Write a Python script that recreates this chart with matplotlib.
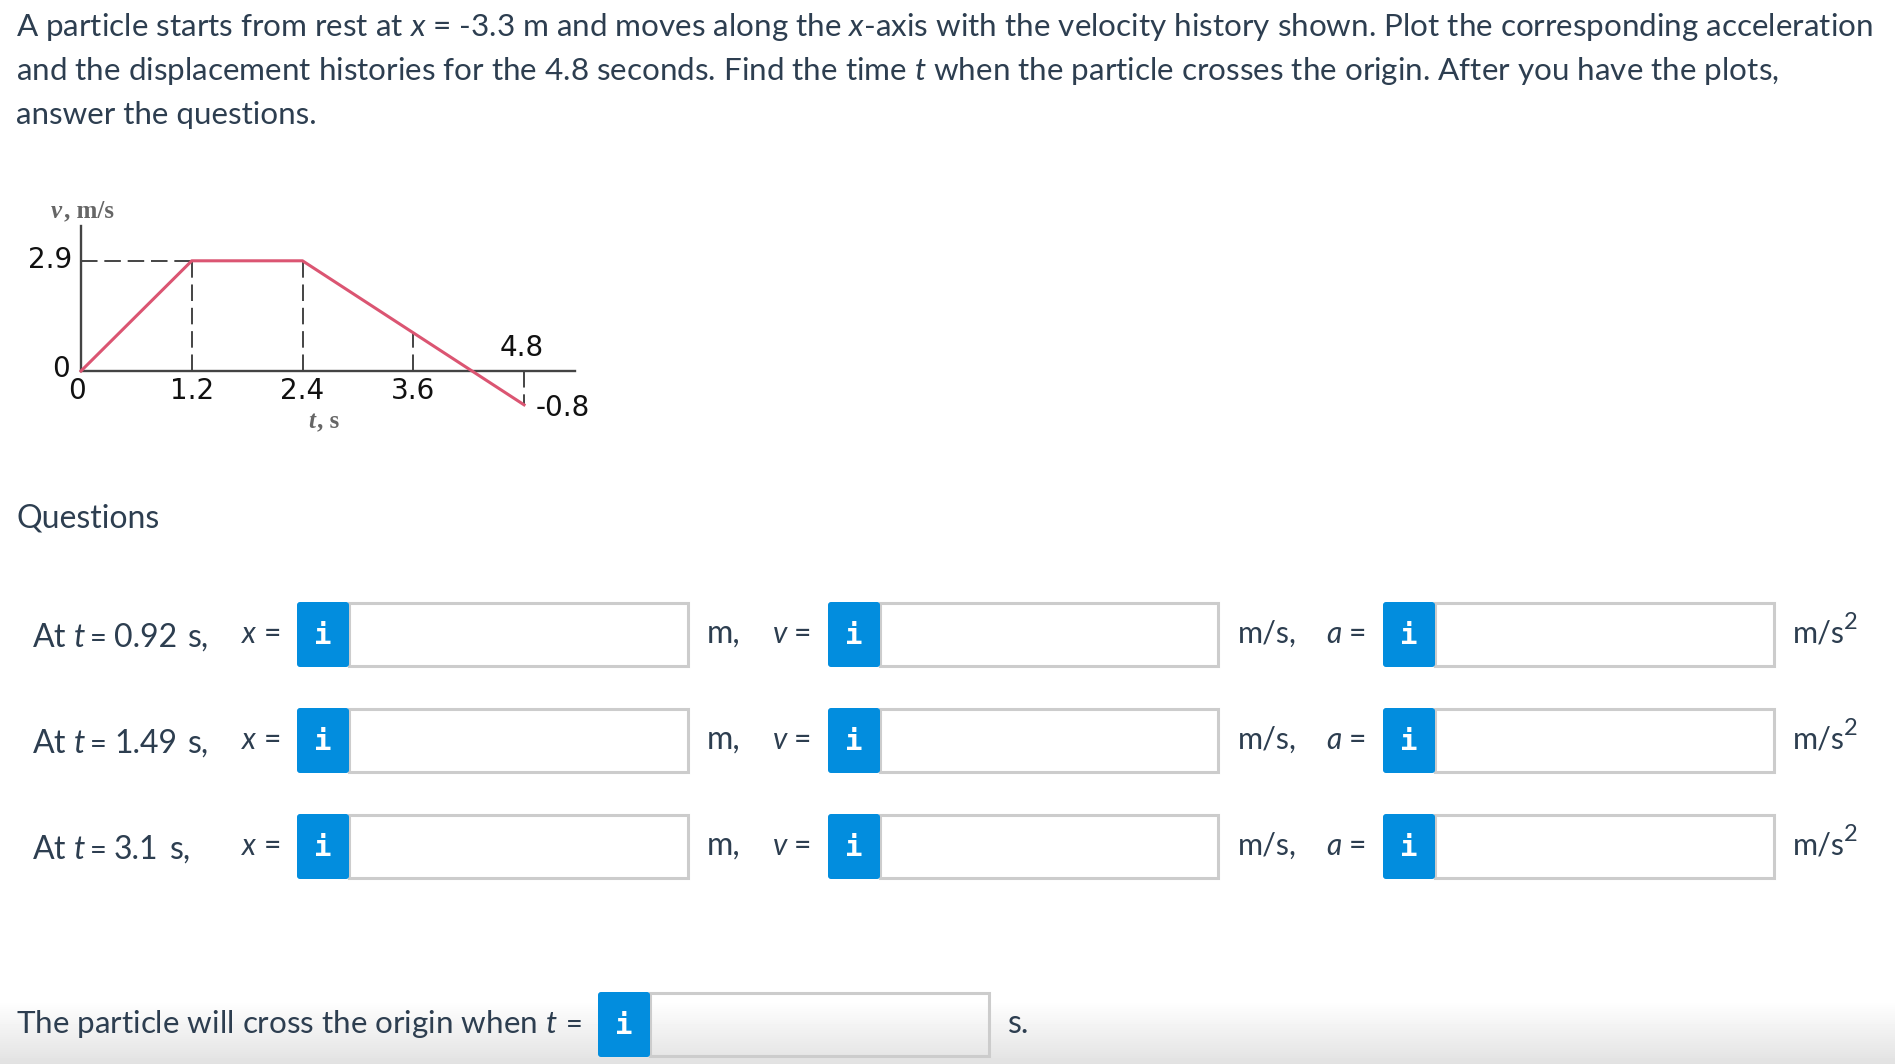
import numpy as np
import matplotlib
matplotlib.use("Agg")
import matplotlib.pyplot as plt
from matplotlib.patches import Rectangle, FancyBboxPatch

plt.rcParams['font.family'] = ['Lato', 'DejaVu Sans']
plt.rcParams['mathtext.fontset'] = 'custom'
plt.rcParams['mathtext.rm'] = 'Lato'
plt.rcParams['mathtext.it'] = 'Lato:italic'
plt.rcParams['mathtext.bf'] = 'Lato:bold'

# velocity history (the end point is drawn lower than its -0.8 label)
t_pts = [0, 1.2, 2.4, 4.8]
v_pts = [0, 2.9, 2.9, -0.89]
v_at_36 = 1.01
x_tick_vals = [0, 1.2, 2.4, 3.6]
x_tick_labels = ['0', '1.2', '2.4', '3.6']

intro_lines = [
    'A particle starts from rest at $x$ = -3.3 m and moves along the $x$-axis with the velocity history shown. Plot the corresponding acceleration',
    'and the displacement histories for the 4.8 seconds. Find the time $t$ when the particle crosses the origin. After you have the plots,',
    'answer the questions.',
]
row_times = ['0.92', '1.49', '3.1']
row_s_x = [188, 188, 170]

W, H = 1895, 1064
TXT = '#2d3e50'
BLUE = '#028dde'
GREY = '#cccccc'

fig = plt.figure(figsize=(W / 100, H / 100), dpi=100, facecolor='white')
page = fig.add_axes([0, 0, 1, 1])
page.axis('off')

# grey fade at the bottom of the page
fade = np.linspace(1, 0.885, 64).reshape(-1, 1)
page.imshow(fade, cmap='gray', vmin=0, vmax=1, extent=[0, W, 1064, 1000], aspect='auto', zorder=0)
page.set_xlim(0, W)
page.set_ylim(H, 0)


def label(x, y, s, size=23, **kw):
    page.text(x, y, s, fontsize=size, color=TXT, va='baseline', ha='left', **kw)


def input_box(x0, x1, x2, top, bottom, fill='white'):
    # text field first, blue info button on top
    page.add_patch(Rectangle((x1, top + 1), x2 - x1 - 2, bottom - top - 2, fc=fill, ec=GREY, lw=2.2, zorder=2))
    page.add_patch(FancyBboxPatch((x0 + 3, top + 3), x1 - x0 - 6, bottom - top - 6,
                                  boxstyle='round,pad=3,rounding_size=3', fc=BLUE, ec='none', zorder=3))
    page.text((x0 + x1) / 2, (top + bottom) / 2 + 1, 'i', color='white', fontsize=21, fontweight='bold',
              family='DejaVu Sans Mono', ha='center', va='center', zorder=4)


for s, y in zip(intro_lines, [36, 80, 124]):
    label(16, y, s, size=22.6)
label(16, 528, 'Questions')

for i, tval in enumerate(row_times):
    top = 602 + i * 106
    bottom = top + 65
    label(32, top + 45, 'At $t$')
    label(90, top + 45, '=', size=21)
    label(114, top + 45, tval)
    label(row_s_x[i], top + 45, 's,')
    label(241, top + 41, '$x$ =', size=21.5)
    input_box(297, 349, 690, top, bottom)
    label(707, top + 41, 'm,')
    label(772, top + 41, '$v$ =', size=21.5)
    input_box(828, 880, 1220, top, bottom)
    label(1238, top + 41, 'm/s,', size=22)
    label(1326, top + 41, '$a$ =', size=21.5)
    input_box(1383, 1435, 1776, top, bottom)
    label(1793, top + 41, 'm/s', size=22)
    label(1844, top + 27, '2', size=17)

label(16, 1033, 'The particle will cross the origin when $t$', size=22.6)
label(566, 1033, '=', size=21)
input_box(598, 650, 991, 992, 1057, fill='none')
label(1008, 1033, 's.')

# small velocity chart, axes placed on the page in pixels
left, right, top_px, bot_px = 81, 575, 226, 420
ax = fig.add_axes([left / W, 1 - bot_px / H, (right - left) / W, (bot_px - top_px) / H])
ax.patch.set_alpha(0)
ax.set_xlim(0, (right - left) / 92.3)
ax.set_ylim(-(bot_px - 371) / 38.0, (371 - top_px) / 38.0)
for side in ['top', 'right']:
    ax.spines[side].set_visible(False)
ax.spines['bottom'].set_position(('data', 0))
ax.spines['left'].set_bounds(0, (371 - top_px) / 38.0)
for side in ['bottom', 'left']:
    ax.spines[side].set_color('#444444')
    ax.spines[side].set_linewidth(1.7)
ax.set_xticks([])
ax.set_yticks([])

dash = dict(color='#444444', lw=1.4, dashes=(8.5, 3.5))
ax.plot([0, t_pts[1]], [v_pts[1], v_pts[1]], **dash)
ax.plot([t_pts[1], t_pts[1]], [0, v_pts[1]], **dash)
ax.plot([t_pts[2], t_pts[2]], [0, v_pts[2]], **dash)
ax.plot([3.6, 3.6], [0, v_at_36], **dash)
ax.plot([t_pts[3], t_pts[3]], [0, v_pts[3]], **dash)
ax.plot(t_pts, v_pts, color='#db5572', lw=2.2, solid_joinstyle='round', clip_on=False, zorder=5)

num = dict(family='DejaVu Sans', fontsize=20, color='#111111', ha='center', va='center')
for t, s in zip(x_tick_vals, x_tick_labels):
    page.text(81 + t * 92.3 - (4 if t == 0 else 0), 391, s, **num)
page.text(522, 348, '4.8', **num)
page.text(563, 408, '-0.8', **num)
page.text(50, 260, '2.9', **num)
page.text(61, 369, '0', **num)

serif = dict(family='Liberation Serif', fontsize=18, color='#666666', ha='left', va='center', fontweight='bold')
page.text(51, 211, 'v', style='italic', **serif)
page.text(64, 211, ', m/s', **serif)
page.text(308, 421, 't', style='italic', **serif)
page.text(317, 421, ', s', **serif)

fig.savefig('out.png', dpi=100)
